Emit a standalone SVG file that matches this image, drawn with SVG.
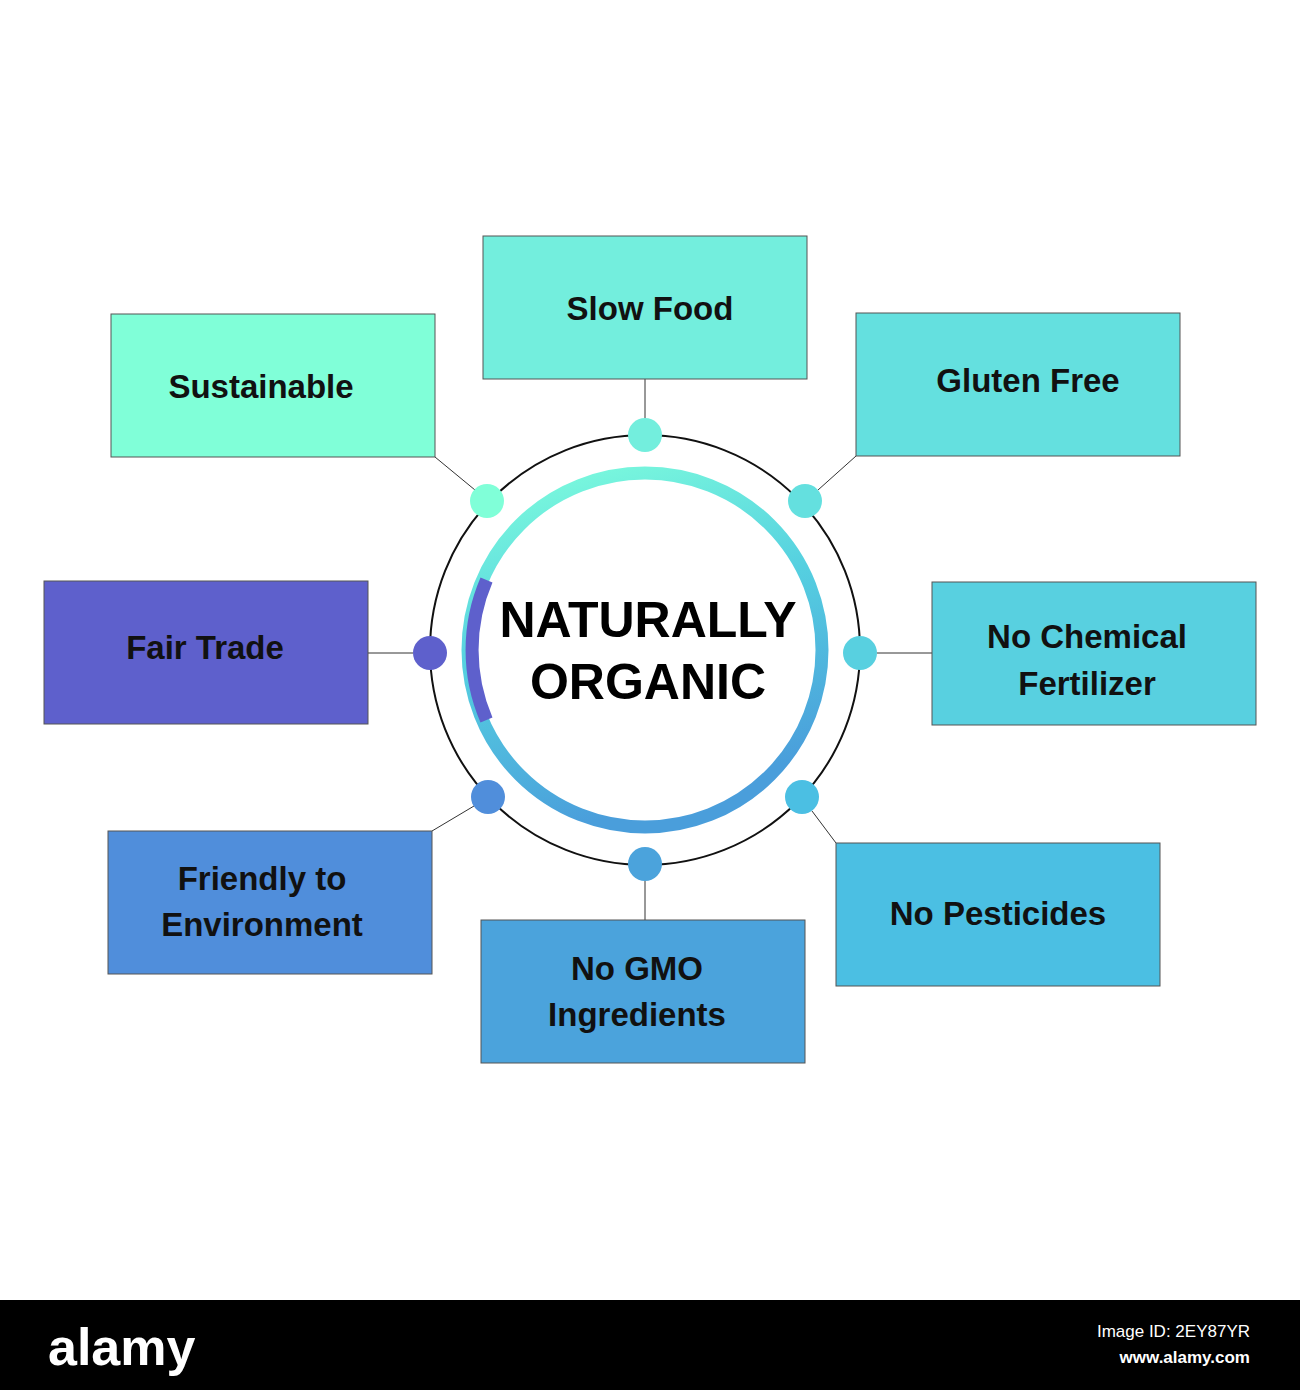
<svg xmlns="http://www.w3.org/2000/svg" width="1300" height="1390" viewBox="0 0 1300 1390">
<style>
.box{stroke:#555;stroke-width:1}
.lbl{font-family:"Liberation Sans",Arial,sans-serif;font-weight:bold;font-size:33px;fill:#111;text-anchor:middle}
.ctr{font-family:"Liberation Sans",Arial,sans-serif;font-weight:bold;font-size:50px;fill:#000;text-anchor:middle}
.con{stroke:#333;stroke-width:1;fill:none}
</style>
<defs>
<linearGradient id="ring" x1="0" y1="0" x2="0.3" y2="1">
<stop offset="0" stop-color="#80FFDC"/><stop offset="0.5" stop-color="#55D0E0"/><stop offset="1" stop-color="#4A9EDB"/>
</linearGradient>
</defs>
<rect width="1300" height="1390" fill="#fff"/>
<g id="connectors">
<line class="con" x1="645" y1="379" x2="645" y2="418"/>
<line class="con" x1="435" y1="457" x2="475" y2="490"/>
<line class="con" x1="856" y1="456" x2="818" y2="490"/>
<line class="con" x1="368" y1="653" x2="413" y2="653"/>
<line class="con" x1="877" y1="653" x2="932" y2="653"/>
<line class="con" x1="432" y1="831" x2="474" y2="806"/>
<line class="con" x1="645" y1="881" x2="645" y2="920"/>
<line class="con" x1="836" y1="843" x2="812" y2="811"/>
</g>
<g id="hub">
<circle cx="645" cy="650" r="215" fill="none" stroke="#111" stroke-width="2"/>
<circle cx="645" cy="650" r="177" fill="none" stroke="url(#ring)" stroke-width="13"/>
<path d="M486.5 580 A177 177 0 0 0 486.5 720" fill="none" stroke="#5E60CC" stroke-width="13"/>
<circle cx="645" cy="435" r="17" fill="#73EEDD"/>
<circle cx="487" cy="501" r="17" fill="#80FFD8"/>
<circle cx="805" cy="501" r="17" fill="#64E0DF"/>
<circle cx="430" cy="653" r="17" fill="#5E60CC"/>
<circle cx="860" cy="653" r="17" fill="#58D0E0"/>
<circle cx="488" cy="797" r="17" fill="#508EDB"/>
<circle cx="802" cy="797" r="17" fill="#4BBFE3"/>
<circle cx="645" cy="864" r="17" fill="#4BA3DC"/>
<text class="ctr" x="648" y="637">NATURALLY</text>
<text class="ctr" x="648" y="699">ORGANIC</text>
</g>
<g id="slowfood"><rect class="box" x="483" y="236" width="324" height="143" fill="#73EEDD"/><text class="lbl" x="650" y="320">Slow Food</text></g>
<g id="sustainable"><rect class="box" x="111" y="314" width="324" height="143" fill="#80FFD8"/><text class="lbl" x="261" y="398">Sustainable</text></g>
<g id="glutenfree"><rect class="box" x="856" y="313" width="324" height="143" fill="#64E0DF"/><text class="lbl" x="1028" y="392">Gluten Free</text></g>
<g id="fairtrade"><rect class="box" x="44" y="581" width="324" height="143" fill="#5E60CC"/><text class="lbl" x="205" y="659">Fair Trade</text></g>
<g id="nochem"><rect class="box" x="932" y="582" width="324" height="143" fill="#58D0E0"/><text class="lbl" x="1087" y="648">No Chemical</text><text class="lbl" x="1087" y="695">Fertilizer</text></g>
<g id="friendly"><rect class="box" x="108" y="831" width="324" height="143" fill="#508EDB"/><text class="lbl" x="262" y="890">Friendly to</text><text class="lbl" x="262" y="936">Environment</text></g>
<g id="nogmo"><rect class="box" x="481" y="920" width="324" height="143" fill="#4BA3DC"/><text class="lbl" x="637" y="980">No GMO</text><text class="lbl" x="637" y="1026">Ingredients</text></g>
<g id="nopest"><rect class="box" x="836" y="843" width="324" height="143" fill="#4BBFE3"/><text class="lbl" x="998" y="925">No Pesticides</text></g>
<g id="footer">
<rect x="0" y="1300" width="1300" height="90" fill="#000"/>
<text x="48" y="1365" font-family="Liberation Sans,Arial,sans-serif" font-weight="bold" font-size="52" fill="#fff">alamy</text>
<text x="1250" y="1337" font-family="Liberation Sans,Arial,sans-serif" font-size="17" fill="#fff" text-anchor="end">Image ID: 2EY87YR</text>
<text x="1250" y="1363" font-family="Liberation Sans,Arial,sans-serif" font-weight="bold" font-size="17" fill="#fff" text-anchor="end">www.alamy.com</text>
</g>
</svg>
